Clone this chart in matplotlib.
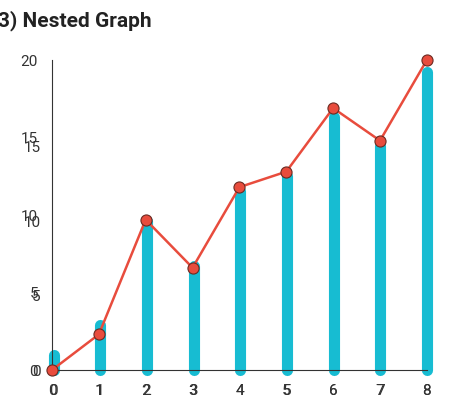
import matplotlib.pyplot as plt

plt.rcParams['font.family'] = ['Roboto', 'DejaVu Sans']

x = [0, 1, 2, 3, 4, 5, 6, 7, 8]
bar_vals = [1, 3, 10, 7, 12, 13, 17, 15, 20]
line_vals = [0, 2.3, 9.7, 6.6, 11.8, 12.8, 16.9, 14.8, 20]
ticks_y = [0, 5, 10, 15, 20]

fig = plt.figure(figsize=(4.58, 4.2), dpi=100)
fig.text(-0.005, 0.975, "3) Nested Graph", fontsize=15, fontweight='bold',
         color='#222222', va='top', ha='left')

pos = [0.1135, 0.119, 0.8185, 0.738]

# inner graph: bars
ax_b = fig.add_axes(pos)
ax_b.vlines(x, 0, bar_vals, colors='#17BCD2', linewidth=8, capstyle='round',
            clip_on=False)
ax_b.set_xlim(-0.04, 7.99)
ax_b.set_ylim(0, 20.8)
ax_b.set_yticks([0, 5, 10, 15])
ax_b.set_xticks(x)
for s in ax_b.spines.values():
    s.set_visible(False)
ax_b.tick_params(length=0, labelsize=11, labelcolor='#333333')
ax_b.tick_params(axis='y', pad=8)
ax_b.tick_params(axis='x', pad=10)

# outer graph: line
ax_l = fig.add_axes(pos)
ax_l.patch.set_visible(False)
ax_l.plot(x, line_vals, color='#E84C3D', linewidth=1.8, marker='o', markersize=8,
          markerfacecolor='#E84C3D', markeredgecolor='#6B2A22', markeredgewidth=0.8,
          clip_on=False, zorder=5)
ax_l.set_xlim(0, 8)
ax_l.set_ylim(0, 20)
ax_l.set_yticks(ticks_y)
ax_l.set_xticks(x)
ax_l.spines['top'].set_visible(False)
ax_l.spines['right'].set_visible(False)
ax_l.spines['left'].set_color('#333333')
ax_l.spines['bottom'].set_color('#333333')
ax_l.tick_params(length=0, labelsize=11, labelcolor='#333333', pad=10)

fig.savefig('out.png', dpi=100)
